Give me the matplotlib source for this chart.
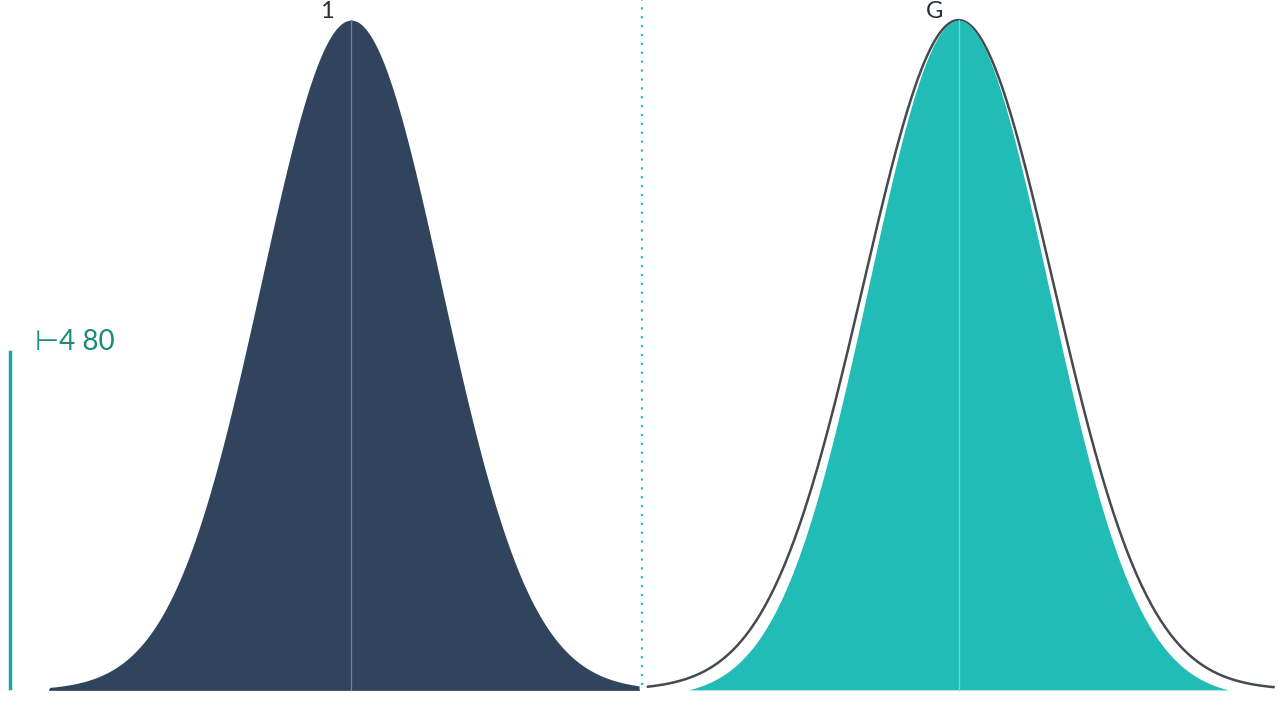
import numpy as np
import matplotlib
matplotlib.use('Agg')
from matplotlib import pyplot as plt

# two groups, normal curves scaled to the same peak height
labels = ['1', 'G']
means = [0.0, 6.75]
sds = [1.0, 1.0]
outline_sd = 1.055          # wider grey outline around the right group
fill_cut = 3.0              # right fill tapers to zero at +-3 sd
peak = 1.0
left_range = (-3.35, 3.2)
right_line_range = (3.3, 10.25)
divider_x = 3.233

scale_label = '⊢4 80'
scale_x = -3.79
scale_span = (0.003, 0.504)

navy = '#30445e'
teal = '#22bcb6'
grey = '#454a50'


def bell(x, mu, sd):
    return peak * np.exp(-0.5 * ((x - mu) / sd) ** 2)


def bell_cut(x, mu, sd, cut):
    floor = np.exp(-0.5 * cut ** 2)
    y = (np.exp(-0.5 * ((x - mu) / sd) ** 2) - floor) / (1 - floor)
    return peak * np.clip(y, 0, None)


fig = plt.figure(figsize=(12.8, 7.2), dpi=100)
ax = fig.add_axes([0, 0, 1, 1])
ax.set_xlim(-3.9, 10.322)
ax.set_ylim(-0.045, 1.03)
ax.axis('off')

# left group
xl = np.linspace(left_range[0], left_range[1], 400)
ax.fill_between(xl, 0, bell(xl, means[0], sds[0]), color=navy, lw=0, zorder=2)
ax.plot(xl, np.zeros_like(xl), color=grey, lw=1.2, zorder=1)
ax.plot([means[0], means[0]], [0, peak], color='#6a84a3', lw=0.9, zorder=3)

# right group: outline then fill
xo = np.linspace(right_line_range[0], right_line_range[1], 400)
ax.plot(xo, bell(xo, means[1], outline_sd), color=grey, lw=1.8, zorder=2)
xr = np.linspace(means[1] - fill_cut * sds[1], means[1] + fill_cut * sds[1], 400)
ax.fill_between(xr, 0, bell_cut(xr, means[1], sds[1], fill_cut), color=teal,
                lw=0, zorder=3)
ax.plot([means[1], means[1]], [0, peak], color='#6fd9d2', lw=0.9, zorder=4)

# divider
ax.plot([divider_x, divider_x], [0.008, 1.03], color=teal, lw=1.6,
        linestyle=(0, (1, 3)), zorder=1)

# scale bar at left
ax.plot([scale_x, scale_x], scale_span, color='#1aa89a', lw=2.5)
ax.text(-3.51, 0.519, scale_label, color='#178a78', fontsize=20,
        family=['Lato', 'DejaVu Sans'], va='center', ha='left')

# group labels above peaks
for lab, mu in zip(labels, means):
    ax.text(mu - 0.27, 1.013, lab, color='#2a2f36', fontsize=17,
            family=['Lato', 'DejaVu Sans'], ha='center', va='center')

fig.savefig('out.png', dpi=100, facecolor='white')
